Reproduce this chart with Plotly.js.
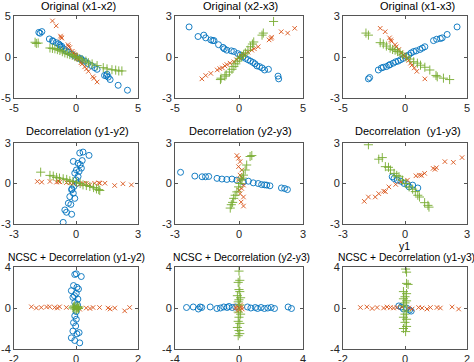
<!DOCTYPE html>
<html>
<head>
<meta charset="utf-8">
<script src="https://cdn.plot.ly/plotly-3.0.1.min.js"></script>
<style>html,body{margin:0;padding:0;background:#fff;}#chart{width:474px;height:362px;}</style>
</head>
<body>
<div id="chart"></div>
<script>
// ---------- Panel titles and tick labels ----------
var titles = ["Original (x1-x2)", "Original (x2-x3)", "Original (x1-x3)",
              "Decorrelation (y1-y2)", "Decorrelation (y2-y3)", "Decorrelation  (y1-y3)",
              "NCSC + Decorrelation (y1-y2)", "NCSC + Decorrelation (y2-y3)", "NCSC + Decorrelation (y1-y3)"];
var extraLabel = "y1";
var xLimits = [5, 5, 5, 3, 3, 3, 2, 4, 2];
var yLimits = [5, 3, 3, 3, 3, 3, 4, 4, 4];

// ---------- Data (x, y pairs) ----------
var p1_blue = [[-3.0,3.0],[-2.75,3.1],[-2.9,2.9],[-2.15,2.2],[-1.9,2.0],[-1.85,1.9],[-1.6,1.75],[-1.4,1.6],[-1.3,1.45],[-1.15,1.3],[-1.25,1.2],[-1.0,1.0],[-0.8,0.75],[-0.6,0.6],[-0.35,0.35],[-0.1,0.1],[0.2,-0.15],[0.45,-0.35],[0.7,-0.5],[0.95,-0.8],[1.25,-1.05],[1.5,-1.3],[1.7,-1.5],[2.3,-2.25],[2.45,-2.3],[2.6,-2.45],[2.75,-2.75],[3.4,-3.45],[4.15,-4.05],[2.5,-2.1],[0.4,-0.2]];
var p1_orange = [[-1.9,4.4],[-1.6,3.8],[-1.25,2.55],[-1.15,2.3],[-1.2,2.4],[-0.65,1.5],[-0.5,1.15],[-0.6,1.3],[-0.3,0.7],[-0.2,0.5],[-0.1,0.3],[0.0,0.1],[0.1,-0.1],[0.25,-0.3],[0.4,-0.7],[0.5,-0.85],[0.7,-1.2],[0.85,-1.45],[1.0,-1.75],[1.35,-2.4],[1.45,-2.6],[1.7,-3.05],[-0.05,0.2],[0.15,-0.2]];
var p1_green = [[-3.3,1.8],[-3.05,1.7],[-3.2,1.65],[-2.1,1.1],[-1.9,1.05],[-1.7,1.0],[-1.5,0.9],[-1.3,0.8],[-1.1,0.65],[-0.9,0.5],[-0.7,0.4],[-0.5,0.3],[-0.3,0.2],[-0.1,0.05],[0.1,-0.05],[0.3,-0.2],[0.5,-0.35],[0.8,-0.5],[1.0,-0.7],[1.3,-0.85],[1.7,-1.05],[2.2,-1.3],[2.5,-1.45],[2.9,-1.55],[3.2,-1.6],[3.45,-1.7],[3.7,-1.7]];

var p2_blue = [[-3.9,2.2],[-3.2,1.5],[-2.75,1.6],[-2.6,1.4],[-2.2,1.25],[-2.05,1.2],[-1.95,1.2],[-1.6,0.9],[-1.25,0.7],[-1.15,0.6],[-0.95,0.5],[-0.6,0.45],[-0.4,0.4],[-0.1,0.25],[0.1,0.15],[0.3,0.0],[0.5,-0.1],[0.7,-0.2],[0.9,-0.3],[1.1,-0.4],[1.25,-0.5],[1.4,-0.65],[1.6,-0.7],[1.8,-0.8],[2.0,-0.95],[2.3,-0.9],[3.05,-1.4],[3.1,-1.6]];
var p2_orange = [[-2.9,-1.6],[-2.6,-1.35],[-2.2,-1.2],[-1.7,-0.95],[-1.5,-0.85],[-1.3,-0.8],[-1.1,-0.65],[-0.95,-0.55],[-0.7,-0.45],[-0.4,-0.35],[-0.2,-0.2],[0.0,-0.05],[0.2,0.1],[0.4,0.2],[0.7,0.35],[1.0,0.5],[1.2,0.6],[1.5,0.75],[2.35,1.25],[2.5,1.35],[2.55,1.45],[3.3,1.85],[3.8,1.75],[4.35,2.1]];
var p2_green = [[-1.45,-1.65],[-1.4,-1.55],[-1.1,-1.4],[-1.0,-1.3],[-0.75,-1.1],[-0.55,-0.9],[-0.4,-0.7],[-0.25,-0.5],[-0.1,-0.3],[0.05,-0.1],[0.2,0.05],[0.35,0.15],[0.5,0.3],[0.7,0.5],[0.9,0.75],[1.05,0.95],[1.15,1.1],[1.8,1.6],[1.9,1.75],[2.7,2.6]];

var p3_blue = [[-2.95,-1.6],[-2.85,-1.5],[-2.15,-0.95],[-1.9,-0.8],[-1.75,-0.75],[-1.5,-0.7],[-1.3,-0.6],[-1.2,-0.55],[-0.95,-0.45],[-0.75,-0.35],[-0.55,-0.3],[-0.35,-0.2],[-0.15,-0.1],[0.1,0.05],[0.3,0.15],[0.5,0.3],[0.7,0.4],[0.9,0.45],[1.2,0.55],[1.4,0.65],[1.6,0.75],[2.3,1.2],[2.55,1.3],[2.85,1.35],[3.0,1.4],[3.4,1.65],[4.2,2.2]];
var p3_orange = [[-2.0,2.1],[-1.6,1.85],[-1.25,1.4],[-1.1,1.15],[-1.15,1.25],[-0.8,0.9],[-0.7,0.75],[-0.5,0.55],[-0.3,0.3],[-0.15,0.15],[0.0,0.05],[0.15,-0.1],[0.3,-0.25],[0.45,-0.45],[0.55,-0.6],[0.75,-0.8],[0.95,-1.05],[1.6,-1.6]];
var p3_green = [[-3.15,1.75],[-2.95,1.6],[-2.0,1.05],[-1.75,0.95],[-1.5,0.8],[-1.2,0.65],[-1.0,0.55],[-0.8,0.5],[-0.6,0.4],[-0.4,0.3],[-0.2,0.15],[0.1,0.0],[0.4,-0.15],[0.7,-0.35],[1.0,-0.45],[1.25,-0.6],[1.6,-0.75],[2.0,-0.95],[2.5,-1.35],[2.6,-1.45],[3.1,-1.55],[3.6,-1.65]];

var p4_blue = [[0.18,2.26],[0.34,2.33],[0.63,2.08],[-0.13,1.64],[0.1,1.5],[0.2,1.4],[0.26,1.14],[0.02,1.0],[0.15,0.9],[-0.06,0.77],[0.1,0.52],[0.0,0.27],[0.06,0.02],[-0.1,-0.22],[-0.21,-0.47],[-0.13,-0.72],[-0.3,-0.97],[-0.06,-1.1],[-0.37,-1.46],[-0.25,-1.55],[-0.54,-1.96],[-0.46,-2.13],[-0.21,-2.28],[-0.62,-2.88],[0.3,1.7],[-0.2,-0.4]];
var p4_orange = [[-1.87,0.15],[-1.66,0.1],[-1.26,0.15],[-0.94,0.1],[-0.85,0.15],[-0.78,0.12],[-0.46,0.07],[-0.3,0.05],[-0.14,0.02],[0.18,-0.05],[0.35,0.0],[0.5,0.02],[0.67,-0.1],[0.9,0.02],[1.1,0.05],[1.15,0.02],[1.4,0.02],[1.87,-0.15],[2.27,-0.02],[2.68,-0.1]];
var p4_green = [[-1.71,0.84],[-1.26,0.6],[-1.1,0.55],[-0.94,0.45],[-0.8,0.4],[-0.62,0.35],[-0.45,0.3],[-0.3,0.2],[-0.15,0.15],[0.02,0.1],[0.2,0.0],[0.34,-0.1],[0.5,-0.15],[0.67,-0.22],[0.85,-0.3],[0.99,-0.4],[1.1,-0.45],[1.15,-0.52]];

var p5_blue = [[-2.74,0.83],[-2.07,0.55],[-1.73,0.5],[-1.57,0.5],[-1.42,0.52],[-1.03,0.38],[-0.8,0.33],[-0.57,0.3],[-0.33,0.33],[-0.1,0.25],[0.21,0.12],[0.44,0.17],[0.67,0.05],[0.9,0.0],[1.06,-0.08],[1.2,-0.1],[1.3,-0.12],[1.45,-0.17],[1.99,-0.33],[2.14,-0.37],[2.27,-0.45]];
var p5_orange = [[-0.1,2.07],[-0.02,1.87],[0.05,1.62],[-0.02,1.25],[0.13,1.0],[0.05,0.62],[-0.02,0.25],[0.21,-0.12],[0.13,-0.37],[0.05,-0.75],[0.21,-1.0],[0.1,-1.37],[0.21,-1.67],[0.0,-0.5],[0.15,0.4]];
var p5_green = [[-0.41,-1.82],[-0.36,-1.57],[-0.3,-1.4],[-0.18,-0.87],[-0.1,-0.62],[-0.02,-0.25],[0.05,0.0],[0.1,0.25],[0.21,0.62],[0.29,1.0],[0.36,1.37],[0.6,2.07],[0.52,2.0],[0.15,0.4],[-0.25,-1.1]];

var p6_blue = [[-0.62,0.5],[-0.53,0.37],[-0.37,0.25],[-0.2,0.17],[-0.04,0.0],[0.12,-0.07],[0.2,-0.25],[0.37,-0.12],[0.62,-0.33]];
var p6_orange = [[-1.97,-1.32],[-1.77,-1.0],[-1.44,-1.0],[-1.27,-0.75],[-1.03,-0.57],[-0.95,-0.6],[-0.78,-0.25],[-0.45,-0.07],[-0.2,0.12],[0.12,0.25],[0.53,0.57],[0.7,0.62],[0.8,0.6],[0.95,0.75],[1.36,1.12],[1.45,1.05],[1.52,1.17],[1.93,1.62],[2.34,1.57],[2.76,1.92]];
var p6_green = [[-1.77,2.87],[-1.27,1.8],[-1.1,1.92],[-0.95,1.25],[-0.8,1.2],[-0.7,1.0],[-0.53,0.75],[-0.4,0.6],[-0.29,0.5],[-0.12,0.25],[0.04,0.0],[0.2,-0.25],[0.37,-0.42],[0.5,-0.6],[0.62,-0.87],[0.7,-1.0],[0.95,-1.42],[1.11,-1.62],[1.16,-1.75]];

var p7_blue = [[-0.04,3.27],[0.01,3.34],[0.17,3.07],[-0.08,2.19],[0.03,2.02],[0.08,1.85],[-0.15,1.69],[0.01,1.43],[-0.1,1.04],[0.06,0.87],[-0.04,0.54],[0.05,0.3],[0.01,-0.35],[-0.04,-0.77],[0.01,-1.1],[-0.08,-1.43],[-0.01,-1.76],[-0.1,-2.25],[0.03,-2.52],[-0.15,-2.91],[0.12,-3.4],[-0.04,-3.17],[0.1,-2.4],[-0.05,1.2]];
var p7_orange = [[-1.44,0.12],[-1.28,0.0],[-1.12,0.05],[-0.95,0.1],[-0.85,0.12],[-0.69,0.05],[-0.6,0.0],[-0.53,0.12],[-0.31,0.05],[0.12,-0.12],[0.33,0.0],[0.45,-0.05],[0.55,0.05],[0.76,0.05],[1.03,0.0],[1.1,-0.1],[1.25,0.0],[1.57,-0.28],[1.73,0.05]];
var p7_green = [[-0.08,0.1],[-0.04,-0.1],[0.0,0.05],[0.04,0.15],[0.08,-0.05],[-0.1,0.0],[0.1,0.1],[0.02,-0.15],[-0.05,0.2],[0.06,0.0]];

var p8_blue = [[-3.28,0.05],[-2.86,0.1],[-2.54,-0.1],[-2.43,0.1],[-2.33,0.05],[-1.8,0.1],[-1.38,-0.05],[-1.16,0.0],[-0.95,0.1],[-0.74,0.05],[-0.63,0.15],[-0.42,0.05],[-0.21,0.1],[0.53,0.1],[0.74,0.0],[1.02,0.05],[1.16,-0.05],[1.38,0.05],[1.59,-0.05],[1.8,0.0],[2.01,0.05],[2.22,-0.05],[3.07,0.1],[3.28,-0.05]];
var p8_orange = [[-0.15,0.2],[0.1,0.3],[0.2,-0.1],[-0.1,-0.3],[0.0,0.0],[0.15,0.1],[-0.2,0.0],[0.05,-0.2]];
var p8_green = [[0.0,3.6],[0.05,2.7],[-0.05,2.5],[0.0,1.8],[0.05,1.6],[-0.1,1.2],[0.1,1.0],[0.0,0.8],[-0.05,0.6],[0.05,0.3],[-0.05,-0.4],[0.1,-0.6],[0.0,-0.9],[-0.05,-1.3],[0.05,-1.5],[-0.1,-1.9],[0.0,-2.2],[0.05,-2.5],[-0.05,-2.7]];

var p9_blue = [[-0.2,0.2],[-0.12,0.1],[0.15,-0.2],[0.2,-0.3],[0.05,0.0],[-0.05,-0.1]];
var p9_orange = [[-1.44,0.05],[-1.23,0.1],[-1.06,-0.05],[-0.9,0.05],[-0.69,0.0],[-0.58,0.1],[-0.47,0.05],[-0.37,0.0],[-0.26,0.05],[-0.1,0.1],[0.12,0.0],[0.23,-0.1],[0.44,0.05],[0.55,0.0],[0.71,-0.1],[0.82,0.05],[1.03,0.05],[1.14,0.0],[1.52,0.1],[1.73,-0.1]];
var p9_green = [[0.02,3.8],[0.05,3.5],[0.05,2.4],[0.1,2.3],[-0.05,1.6],[0.05,1.4],[0.0,1.1],[-0.05,0.9],[0.05,0.7],[0.0,0.5],[-0.05,0.2],[0.05,-0.3],[0.0,-0.6],[-0.05,-0.9],[0.05,-1.1],[0.0,-1.4],[0.05,-1.8],[-0.05,-2.0],[0.02,-2.3]];

// ---------- Build ----------
var W = 474, H = 362;
var panels = [
  [p1_blue, p1_orange, p1_green], [p2_blue, p2_orange, p2_green], [p3_blue, p3_orange, p3_green],
  [p4_blue, p4_orange, p4_green], [p5_blue, p5_orange, p5_green], [p6_blue, p6_orange, p6_green],
  [p7_blue, p7_orange, p7_green], [p8_blue, p8_orange, p8_green], [p9_blue, p9_orange, p9_green]
];
var colPx = [[14, 138], [175, 303], [343, 467]];
var rowPx = [[16, 98], [143, 224], [267, 349]];
var titleX = [78, 240, 417, 77, 240, 408, 76, 241, 406];
var titleY = [6, 131, 257];
var titleSize = [11, 11, 10.3];
var styles = [
  {symbol: 'circle-open', color: '#0072BD', size: 6},
  {symbol: 'x-thin-open', color: '#D95319', size: 4.5},
  {symbol: 'cross-thin-open', color: '#77AC30', size: 6.5}
];
var FONT = 'Liberation Sans, Arial, Helvetica, sans-serif';

var traces = [];
var layout = {
  width: W, height: H,
  margin: {l: 0, r: 0, t: 0, b: 0},
  paper_bgcolor: '#ffffff', plot_bgcolor: '#ffffff',
  showlegend: false,
  font: {family: FONT, size: 11, color: '#262626'},
  annotations: []
};

panels.forEach(function (series, i) {
  var r = Math.floor(i / 3), c = i % 3, k = i + 1;
  var xa = 'x' + (k === 1 ? '' : k), ya = 'y' + (k === 1 ? '' : k);
  series.forEach(function (pts, s) {
    traces.push({
      type: 'scatter', mode: 'markers', xaxis: xa, yaxis: ya,
      x: pts.map(function (p) { return p[0]; }),
      y: pts.map(function (p) { return p[1]; }),
      marker: {symbol: styles[s].symbol, size: styles[s].size, color: styles[s].color,
               line: {color: styles[s].color, width: 0.9}},
      hoverinfo: 'skip', cliponaxis: true
    });
  });
  var xl = xLimits[i], yl = yLimits[i];
  var common = {
    showline: true, mirror: 'ticks', linecolor: '#555555', linewidth: 1,
    ticks: 'inside', ticklen: 3, tickcolor: '#555555', tickwidth: 1,
    showgrid: false, zeroline: false, fixedrange: true,
    tickfont: {family: FONT, size: 11, color: '#262626'}
  };
  layout['xaxis' + (k === 1 ? '' : k)] = Object.assign({}, common, {
    domain: [colPx[c][0] / W, colPx[c][1] / W], range: [-xl, xl], anchor: ya,
    tickmode: 'array', tickvals: [-xl, 0, xl], ticktext: ['-' + xl, '0', String(xl)]
  });
  layout['yaxis' + (k === 1 ? '' : k)] = Object.assign({}, common, {
    domain: [1 - rowPx[r][1] / H, 1 - rowPx[r][0] / H], range: [-yl, yl], anchor: xa,
    tickmode: 'array', tickvals: [-yl, 0, yl], ticktext: ['-' + yl, '0', String(yl)]
  });
  layout.annotations.push({
    xref: 'paper', yref: 'paper', x: titleX[i] / W, y: 1 - titleY[r] / H,
    xanchor: 'center', yanchor: 'middle', showarrow: false,
    text: titles[i], font: {family: FONT, size: titleSize[r], color: '#000000'}
  });
});
layout.annotations.push({
  xref: 'paper', yref: 'paper', x: 404 / W, y: 1 - 246 / H,
  xanchor: 'center', yanchor: 'middle', showarrow: false,
  text: extraLabel, font: {family: FONT, size: 10.5, color: '#000000'}
});

Plotly.newPlot('chart', traces, layout, {staticPlot: true, displayModeBar: false});
</script>
</body>
</html>
